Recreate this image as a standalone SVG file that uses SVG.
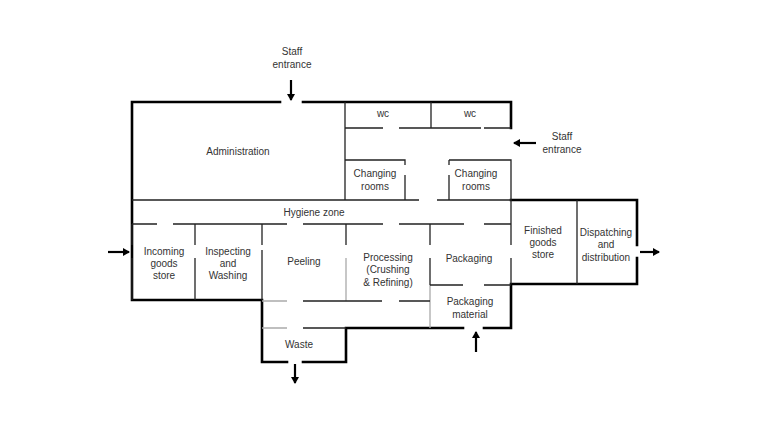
<svg xmlns="http://www.w3.org/2000/svg" width="768" height="431" viewBox="0 0 768 431">
<defs>
<marker id="ah" markerWidth="8" markerHeight="8" refX="6" refY="4" orient="auto" markerUnits="userSpaceOnUse"><path d="M0,0 L7,4 L0,8 Z" fill="#000"/></marker>
<style>
.thick{stroke:#000;stroke-width:2.6;fill:none;stroke-linecap:square}
.thin{stroke:#222;stroke-width:1.3;fill:none}
.gray{stroke:#aaa;stroke-width:1.3;fill:none}
.arr{stroke:#000;stroke-width:2.2;fill:none;marker-end:url(#ah)}
text{font-family:"Liberation Sans",Arial,sans-serif;font-size:10px;fill:#333;text-anchor:middle}
</style>
</defs>
<rect width="768" height="431" fill="#fff"/>
<g id="walls">
<path class="thick" d="M280,102 H132 V300 H262 V362 H287 M303,362 H346 V328 H463 M484,328 H511 V284 H637 V258 M637,245 V200 H511 M303,102 H511 V128"/>
<path class="thin" d="M345,102 V200 M431,102 V128 M345,128 H383 M399,128 H481 M484,128 H511"/>
<path class="thin" d="M345,160 H405 V165 M405,175 V200 M449,160 H511 V200 M449,160 V165 M449,175 V200 M511,160 V200"/>
<path class="thin" d="M132,200 H419 M437,200 H511"/>
<path class="thin" d="M132,224 H157 M173,224 H287 M303,224 H383 M399,224 H464 M484,224 H511"/>
<path class="thin" d="M132,224 V245 M132,258 V300 M195,224 V245 M195,258 V300 M262,224 V245 M262,250 V300 M346,224 V245 M430,224 V245 M430,258 V285 M511,200 V245 M511,258 V284 M577,200 V284"/>
<path class="gray" d="M346,258 V301 M430,285 V328 M262,301 H287 M262,328 H287"/>
<path class="thin" d="M303,301 H382 M399,301 H430 M303,328 H346 M430,285 H463 M484,285 H511"/>
</g>
<g id="connectors">
<path class="arr" d="M291,80 V100"/>
<path class="arr" d="M536,143 H514"/>
<path class="arr" d="M108,252 H129"/>
<path class="arr" d="M640,252 H659"/>
<path class="arr" d="M295,364 V383"/>
<path class="arr" d="M476,352 V332"/>
</g>
<g id="labels">
<text x="292" y="55">Staff</text><text x="292" y="68">entrance</text>
<text x="562" y="140">Staff</text><text x="562" y="153">entrance</text>
</g>
<g id="administration"><text x="238" y="155">Administration</text></g>
<g id="wc1"><text x="383" y="117">wc</text></g>
<g id="wc2"><text x="470" y="117">wc</text></g>
<g id="changing1"><text x="375" y="177">Changing</text><text x="375" y="190">rooms</text></g>
<g id="changing2"><text x="476" y="177">Changing</text><text x="476" y="190">rooms</text></g>
<g id="hygiene"><text x="314" y="216">Hygiene zone</text></g>
<g id="incoming"><text x="164" y="255">Incoming</text><text x="164" y="267">goods</text><text x="164" y="279">store</text></g>
<g id="inspecting"><text x="228" y="255">Inspecting</text><text x="228" y="267">and</text><text x="228" y="279">Washing</text></g>
<g id="peeling"><text x="304" y="265">Peeling</text></g>
<g id="processing"><text x="388" y="261">Processing</text><text x="388" y="273">(Crushing</text><text x="388" y="286">&amp; Refining)</text></g>
<g id="packaging"><text x="469" y="262">Packaging</text></g>
<g id="packmat"><text x="470" y="305">Packaging</text><text x="470" y="318">material</text></g>
<g id="finished"><text x="543" y="234">Finished</text><text x="543" y="246">goods</text><text x="543" y="258">store</text></g>
<g id="dispatch"><text x="606" y="236">Dispatching</text><text x="606" y="248">and</text><text x="606" y="261">distribution</text></g>
<g id="waste"><text x="299" y="348">Waste</text></g>
</svg>
